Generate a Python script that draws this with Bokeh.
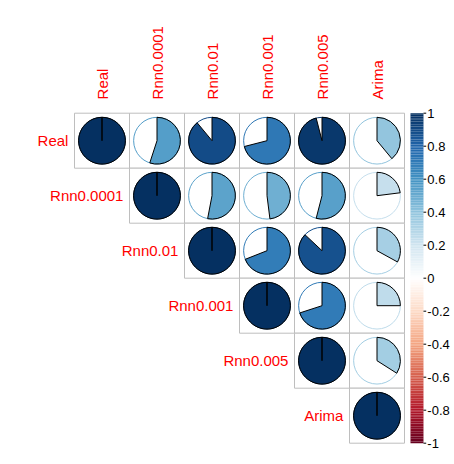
import numpy as np
from bokeh.plotting import figure
from bokeh.models import ColumnDataSource, Range1d
from bokeh.transform import linear_cmap
from bokeh.core.properties import value
from bokeh.embed import file_html
from bokeh.resources import INLINE

# ---- data ----
names = ["Real", "Rnn0.0001", "Rnn0.01", "Rnn0.001", "Rnn0.005", "Arima"]
row_real = [1.00, 0.55, 0.89, 0.71, 0.96, 0.39]
row_rnn00001 = [0.55, 1.00, 0.53, 0.48, 0.54, 0.23]
row_rnn001 = [0.89, 0.53, 1.00, 0.69, 0.87, 0.33]
row_rnn0001 = [0.71, 0.48, 0.69, 1.00, 0.70, 0.25]
row_rnn0005 = [0.96, 0.54, 0.87, 0.70, 1.00, 0.34]
row_arima = [0.39, 0.23, 0.33, 0.25, 0.34, 1.00]
corr_rows = [row_real, row_rnn00001, row_rnn001, row_rnn0001, row_rnn0005, row_arima]
bar_ticks = [1, 0.8, 0.6, 0.4, 0.2, 0, -0.2, -0.4, -0.6, -0.8, -1]
bar_tick_labels = ["1", "0.8", "0.6", "0.4", "0.2", "0", "-0.2", "-0.4", "-0.6", "-0.8", "-1"]

# ---- palette (corrplot COL2 RdBu, 200 colours) ----
anchors = ["#67001F", "#B2182B", "#D6604D", "#F4A582", "#FDDBC7", "#FFFFFF",
           "#D1E5F0", "#92C5DE", "#4393C3", "#2166AC", "#053061"]
def h2rgb(h):
    return np.array([int(h[i:i + 2], 16) for i in (1, 3, 5)], dtype=float)
arr = np.array([h2rgb(a) for a in anchors])
pos = np.linspace(0, 1, len(anchors))
t = np.linspace(0, 1, 200)
palette = []
for tt in t:
    c = [np.interp(tt, pos, arr[:, k]) for k in range(3)]
    palette.append("#%02x%02x%02x" % tuple(int(round(v)) for v in c))

n = len(names)
W, H = 454, 464
cell = 55.0
x0 = -74 / cell
ytop = 112.7 / cell
FONT = value("Liberation Sans")

p = figure(width=W, height=H, output_backend="svg", toolbar_location=None,
           x_range=Range1d(x0, x0 + W / cell), y_range=Range1d(ytop - H / cell, ytop),
           min_border=0, outline_line_color=None)
p.axis.visible = False
p.grid.visible = False
p.background_fill_color = "white"
p.border_fill_color = "white"

xs, ys, rs = [], [], []
for j in range(n):
    for i in range(j, n):
        xs.append(i + 0.5)
        ys.append(-j - 0.5)
        rs.append(corr_rows[j][i])
rs = np.array(rs)
ang = 2 * np.pi * np.minimum(np.abs(rs), 0.99999)
src = ColumnDataSource(dict(x=xs, y=ys, r=rs, start=[np.pi / 2] * len(xs),
                            end=list(np.pi / 2 - ang)))
cmap = linear_cmap("r", palette, -1, 1)

p.rect(x="x", y="y", width=1, height=1, source=src, fill_color="white",
       line_color="#BEBEBE", line_width=1)
R = 0.425
p.circle(x="x", y="y", radius=R, source=src, fill_color="white",
         line_color=cmap, line_width=1)
p.wedge(x="x", y="y", radius=R, start_angle="start", end_angle="end",
        direction="clock", source=src, fill_color=cmap, line_color="black",
        line_width=1)

# labels
p.text(x=[i + 0.5 for i in range(n)], y=[0.25] * n, text=names, angle=np.pi / 2,
       text_align="left", text_baseline="middle", text_color="red",
       text_font=FONT, text_font_size="15px")
p.text(x=[j - 0.11 for j in range(n)], y=[-j - 0.5 for j in range(n)], text=names,
       text_align="right", text_baseline="middle", text_color="red",
       text_font=FONT, text_font_size="15px")

# colour bar
bx0, bx1 = 6.109, 6.345
lev = np.linspace(-1, 1, 201)
mid = (lev[:-1] + lev[1:]) / 2
bsrc = ColumnDataSource(dict(bottom=3 * lev[:-1] - 3, top=3 * lev[1:] - 3, r=mid))
p.quad(left=bx0, right=bx1, bottom="bottom", top="top", source=bsrc,
       fill_color=linear_cmap("r", palette, -1, 1), line_color=None)
ty = [3 * v - 3 for v in bar_ticks]
p.segment(x0=[bx1] * len(ty), x1=[bx1 + 0.05] * len(ty), y0=ty, y1=ty,
          line_color="black", line_width=1)
p.text(x=[bx1 + 0.07] * len(ty), y=ty, text=bar_tick_labels, text_align="left",
       text_baseline="middle", text_color="black", text_font=FONT,
       text_font_size="13px")

open("out.html", "w").write(file_html(p, INLINE))
